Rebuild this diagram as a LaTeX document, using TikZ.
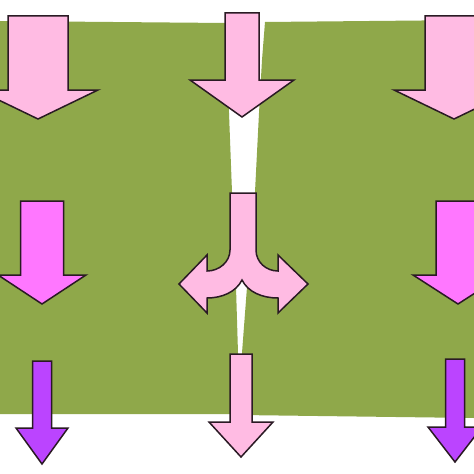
\documentclass[tikz,border=0pt]{standalone}
\definecolor{grn}{HTML}{8FA84A}
\definecolor{pnk}{HTML}{FFBBE3}
\definecolor{mag}{HTML}{FF77FF}
\definecolor{prp}{HTML}{BB44FF}
\definecolor{edge}{HTML}{2A1A24}
\newcommand{\DArrow}[7]{%
  \filldraw[arrowshape,fill=#1] ({#2-#3},#4) -- ({#2+#3},#4) -- ({#2+#3},#5) -- ({#2+#6},#5)
    -- (#2,#7) -- ({#2-#6},#5) -- ({#2-#3},#5) -- cycle;}
\begin{document}
\begin{tikzpicture}[x=0.1cm,y=-0.1cm,
  arrowshape/.style={draw=edge,line width=0.15cm,line join=miter}]
\useasboundingbox (0,0) rectangle (474,474);
\clip (0,0) rectangle (474,474);
\fill[white] (0,0) rectangle (474,474);
% green panels
\fill[grn] (0,21) -- (226,23) -- (229,113) -- (232,192) -- (236,287) -- (238,353) -- (240,414) -- (0,414) -- cycle;
\fill[grn] (265,22) -- (474,20) -- (474,418) -- (240,415) -- (242,353) -- (247,287) -- (255,192) -- (259,113) -- (262,60) -- cycle;
% top row
\DArrow{pnk}{38}{30}{16}{90}{60}{119}
\DArrow{pnk}{242}{17}{13}{80}{52}{117}
\DArrow{pnk}{454}{29}{16}{90}{60}{119}
% middle row
\DArrow{mag}{42}{21.5}{201}{275}{44}{304}
\DArrow{mag}{458}{22}{201}{275}{45}{304}
\filldraw[arrowshape,fill=pnk] (230,193) -- (256,193) -- (256,250)
  .. controls (256,262) and (266,271) .. (278,271) -- (278,255) -- (308,284) -- (278,313) -- (278,298)
  .. controls (262,298) and (248,292) .. (242,280)
  .. controls (236,292) and (222,298) .. (207,298) -- (207,313) -- (179,284) -- (207,255) -- (207,271)
  .. controls (219,271) and (230,262) .. (230,250) -- cycle;
% bottom row
\DArrow{prp}{42}{9.5}{361}{428}{26}{464}
\DArrow{pnk}{241}{11}{354}{422}{32}{457}
\DArrow{prp}{455}{9.5}{359}{427}{27}{462}
\end{tikzpicture}
\end{document}
